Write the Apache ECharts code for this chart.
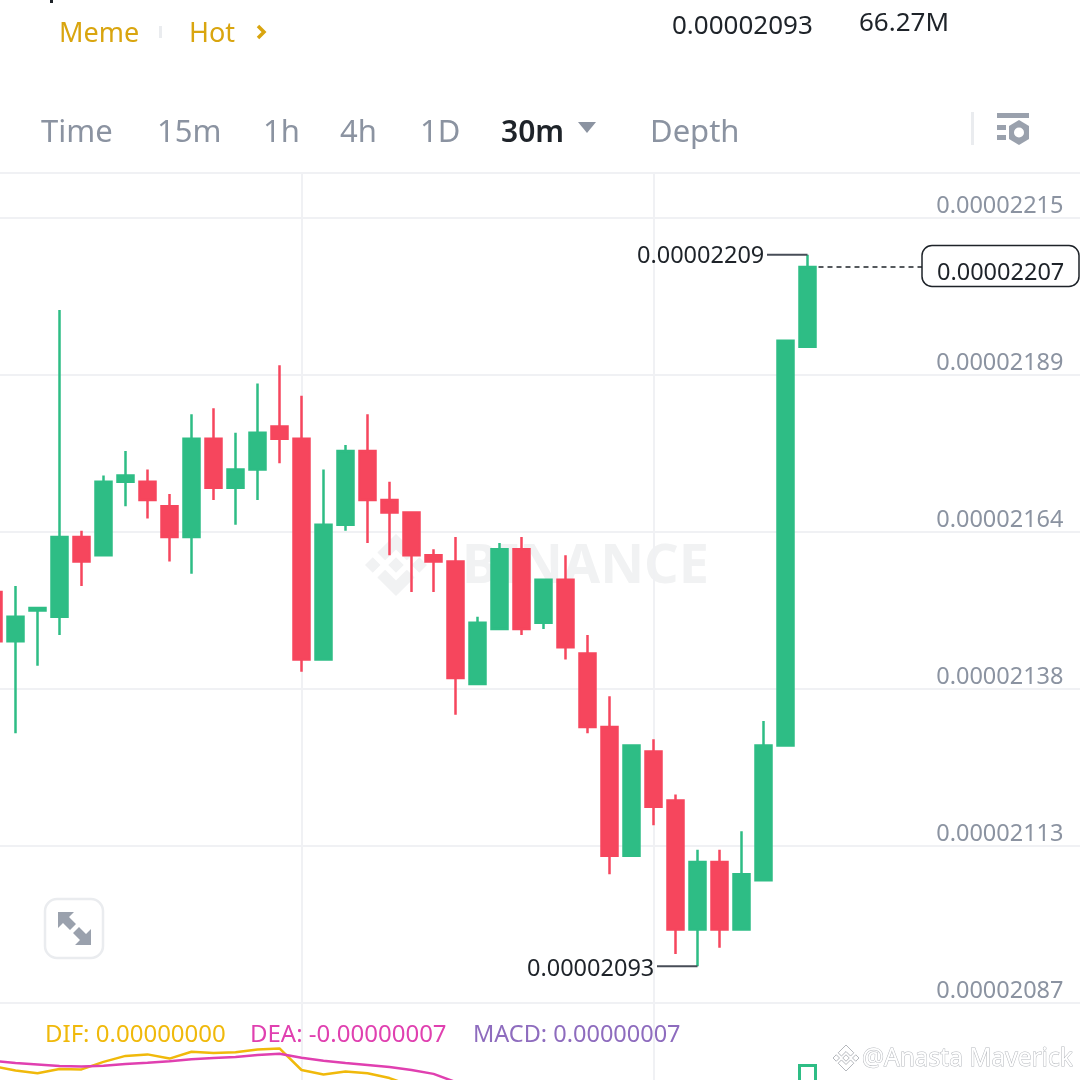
<!DOCTYPE html>
<html>
<head>
<meta charset="utf-8">
<style>html,body{margin:0;padding:0;background:#fff}#main{width:1080px;height:1080px}</style>
<script src="https://cdn.jsdelivr.net/npm/echarts@6/dist/echarts.min.js"></script>
</head>
<body>
<div id="main"></div>
<script>
// prices are in units of 0.00000001
const opens  = [2154,2146,2151,2150,2163,2160,2172,2172,2168,2163,2179,2171,2174,2181,2179,2143,2165,2177,2169,2167,2160,2159,2139,2148,2161,2149,2156,2144,2132,2111,2128,2120,2099,2110,2099,2107,2129,2194];
const closes = [2146,2150,2151.4,2163,2159,2172,2173,2169,2163,2179,2171,2174,2180,2179,2143,2165,2177,2169,2167,2160,2159,2140,2149,2161,2148,2156,2145,2132,2111,2129,2119,2099,2110,2099,2108,2129,2195,2207];
const lows   = [2146,2131,2142,2147,2155,2160,2168,2166,2159,2157,2169,2165,2169,2175,2141,2143,2164,2162,2160,2154,2154,2134,2139,2148,2147,2148,2143,2131,2108,2111,2116,2095,2093,2096,2099,2107,2129,2194];
const highs  = [2154,2155,2151.4,2200,2164,2173,2177,2174,2170,2183,2184,2180,2188,2191,2186,2174,2178,2183,2172,2167,2161,2163,2150,2162,2163,2156,2160,2147,2137,2129,2130,2121,2112,2112,2115,2133,2195,2209];

const tickValues = [2087, 2112.6, 2138.2, 2163.8, 2189.4, 2215];
const tickLabels = ['0.00002087','0.00002113','0.00002138','0.00002164','0.00002189','0.00002215'];

// MACD pane, same unit. Only the part above the crop is readable
const dif = [6.3,4.8,3.9,5.3,5.2,7.7,9.7,10.2,8.8,11.1,10.7,10.9,11.8,12.2,5,3.5,4.5,3.9,2.3,-0.3];
const dea = [8,7.3,6.8,6.3,6.2,6.4,7,7.4,7.9,8.6,9,9.3,10,10.4,9.1,8.1,7.3,6.7,6,5,3.7,1,-1.7];
const macdLast = 7;

const slots = [];   // one band per candle plus the empty space on the right
for (let i = 0; i < 50; i++) slots.push(String(i));
const markedSlots = ['14', '30'];

const UP = '#2EBD85', DOWN = '#F6465D', GRID = '#F0F1F4', GREY = '#8B93A1', INK = '#1E2329';
const FONT = '"Noto Sans", sans-serif';

const chart = echarts.init(document.getElementById('main'));

const lineBase = {
    silent: true, symbol: 'none', z: 1, animation: false,
    label: { show: false },
    lineStyle: { color: GRID, width: 2, type: 'solid' }
};

chart.setOption({
    animation: false,
    backgroundColor: '#fff',
    grid: [
        { left: -17.5, right: -2.5, top: 173, bottom: 77, outerBoundsMode: 'none' },
        { left: -17.5, right: -2.5, top: 1003, bottom: -10, outerBoundsMode: 'none' }
    ],
    xAxis: [
        { type: 'category', data: slots, position: 'top',
          axisLine: { show: true, lineStyle: { color: GRID, width: 2 } },
          axisTick: { show: false }, axisLabel: { show: false }, splitLine: { show: false } },
        { type: 'category', gridIndex: 1, data: slots, show: false }
    ],
    yAxis: [
        { type: 'value', position: 'right', min: 2087, max: 2222.34,
          axisLine: { show: false }, axisTick: { show: false }, splitLine: { show: false },
          axisLabel: {
              inside: true, margin: 19, align: 'right', verticalAlign: 'bottom',
              customValues: tickValues, hideOverlap: false, padding: 0,
              color: GREY, fontFamily: FONT, fontSize: 23.5,
              formatter: v => tickLabels[tickValues.indexOf(v)]
          } },
        { type: 'value', gridIndex: 1, show: false, min: -1.67, max: 27.33 }
    ],
    series: [
        { type: 'candlestick', xAxisIndex: 0, yAxisIndex: 0, barWidth: 17,
          data: opens.map((o, i) => [o, closes[i], lows[i], highs[i]]),
          itemStyle: { color: UP, color0: DOWN, borderColor: UP, borderColor0: DOWN, borderWidth: 2.5 },
          markLine: Object.assign({}, lineBase, {
              data: markedSlots.map(s => ({ xAxis: s })).concat(tickValues.map(v => ({ yAxis: v })))
          }) },
        { type: 'line', name: 'DIF', xAxisIndex: 1, yAxisIndex: 1, data: dif, showSymbol: false,
          lineStyle: { color: '#F0B90B', width: 2.5 },
          markLine: Object.assign({}, lineBase, { data: markedSlots.map(s => ({ xAxis: s })) }) },
        { type: 'line', name: 'DEA', xAxisIndex: 1, yAxisIndex: 1, data: dea, showSymbol: false,
          lineStyle: { color: '#E040B0', width: 2.5 } },
        { type: 'bar', name: 'MACD', xAxisIndex: 1, yAxisIndex: 1, barWidth: 19,
          data: opens.map((o, i) => (i === opens.length - 1 ? macdLast : '-')),
          itemStyle: { color: '#fff', borderColor: UP, borderWidth: 3 } }
    ]
});

function label(text, x, y, size, fill, extra) {
    return { type: 'text', x: x, y: y, z: 10, silent: true,
        style: Object.assign({ text: text, fill: fill, font: size + 'px ' + FONT, textVerticalAlign: 'middle' }, extra || {}) };
}
function poly(points, style, z) {
    return { type: 'polygon', z: z === undefined ? 10 : z, silent: true, shape: { points: points }, style: style };
}
function box(x, y, w, h, fill) {
    return { type: 'rect', z: 10, silent: true, shape: { x: x, y: y, width: w, height: h }, style: { fill: fill } };
}
function seg(x1, y1, x2, y2, stroke, extra) {
    return { type: 'line', z: 10, silent: true, shape: { x1: x1, y1: y1, x2: x2, y2: y2 },
        style: Object.assign({ stroke: stroke, lineWidth: 2 }, extra || {}) };
}
function logo(cx, cy, r, style, z) {
    const at = pts => pts.map(p => [cx + p[0] * r, cy + p[1] * r]);
    const diamond = (dx, h) => [[dx - h, 0], [dx, -h], [dx + h, 0], [dx, h]];
    const chevron = s => [[0, -s], [0.6, -0.4 * s], [0.35, -0.15 * s], [0, -0.5 * s], [-0.35, -0.15 * s], [-0.6, -0.4 * s]];
    return [diamond(-0.75, 0.25), diamond(0, 0.25), diamond(0.75, 0.25), chevron(1), chevron(-1)]
        .map(p => poly(at(p), style, z));
}

const lastX = chart.convertToPixel({ xAxisIndex: 0 }, slots[37]);
const lowX = chart.convertToPixel({ xAxisIndex: 0 }, slots[32]);
const yOf = v => chart.convertToPixel({ yAxisIndex: 0 }, v);
const hiY = yOf(2209), loY = yOf(2093), nowY = yOf(closes[closes.length - 1]);

const art = [
    // header
    box(50, 0, 3, 3, INK),
    label('Meme', 59, 34, 27, '#D9A50F'),
    box(159, 26, 3, 12, '#EAECEF'),
    label('Hot', 189, 34, 27, '#D9A50F'),
    { type: 'polyline', z: 10, silent: true, shape: { points: [[258, 26], [264, 32], [258, 38]] },
      style: { stroke: '#D9A50F', lineWidth: 3.5, fill: 'none' } },
    label('0.00002093', 672, 27, 26, INK),
    label('66.27M', 859, 24, 26, INK),

    // tabs
    label('Time', 41, 133, 31, GREY),
    label('15m', 157, 133, 31, GREY),
    label('1h', 263, 133, 31, GREY),
    label('4h', 340, 133, 31, GREY),
    label('1D', 420, 133, 31, GREY),
    label('30m', 501, 133, 30, INK, { font: '600 30px ' + FONT }),
    poly([[578, 122], [596, 122], [587, 133]], { fill: GREY }),
    label('Depth', 650, 133, 31, GREY),
    box(971, 112, 3, 33, '#EAECEF'),
    box(997, 113, 32, 5, '#9AA1AD'),
    box(997, 125, 9, 5, '#9AA1AD'),
    box(997, 135, 9, 5, '#9AA1AD'),
    poly([[1019, 120], [1029, 126], [1029, 139], [1019, 145], [1009, 139], [1009, 126]], { fill: '#9AA1AD' }),
    { type: 'circle', z: 11, silent: true, shape: { cx: 1019, cy: 132.5, r: 5 }, style: { fill: '#fff' } },

    // expand button
    { type: 'rect', z: 10, silent: true, shape: { x: 45, y: 899, width: 58, height: 59, r: 12 },
      style: { fill: '#fff', stroke: '#EAECEF', lineWidth: 2.5 } },
    poly([[58, 912], [74, 912], [69, 917], [76, 924], [70, 930], [63, 923], [58, 928]], { fill: '#9AA1AD' }),
    poly([[91, 945], [75, 945], [80, 940], [73, 933], [79, 927], [86, 934], [91, 929]], { fill: '#9AA1AD' }),

    // price markers
    label('0.00002209', 637, hiY + 2, 23.5, INK),
    seg(767, hiY, lastX, hiY, '#474D57'),
    label('0.00002093', 527, loY + 3, 23.5, INK),
    seg(657, loY, lowX, loY, '#474D57'),
    seg(lastX + 11, nowY, 922, nowY, INK, { lineWidth: 1.5, lineDash: [5, 4] }),
    { type: 'rect', z: 10, silent: true, shape: { x: 922, y: 245.5, width: 157, height: 41, r: 10 },
      style: { fill: '#fff', stroke: INK, lineWidth: 1.5 } },
    label('0.00002207', 937, 273, 23.5, INK),

    // MACD legend
    label('DIF: 0.00000000', 45, 1035, 24, '#F0B90B'),
    label('DEA: -0.00000007', 250, 1035, 24, '#E040B0'),
    label('MACD: 0.00000007', 473, 1035, 23.5, '#8E6CBE'),

    // watermarks
    label('@Anasta Maverick', 862, 1059, 24.5, '#fff', { stroke: '#B5B8BD', lineWidth: 1 })
];
const mark = label('BINANCE', 462, 568, 54, '#F1F2F3', { font: 'bold 54px ' + FONT });
mark.z = 0;
art.push(mark);
logo(396, 565, 31, { fill: '#F1F2F3' }, 0).forEach(e => art.push(e));
logo(846, 1058, 13, { fill: '#fff', stroke: '#B5B8BD', lineWidth: 1 }, 10).forEach(e => art.push(e));

chart.setOption({ graphic: art });
</script>
</body>
</html>
